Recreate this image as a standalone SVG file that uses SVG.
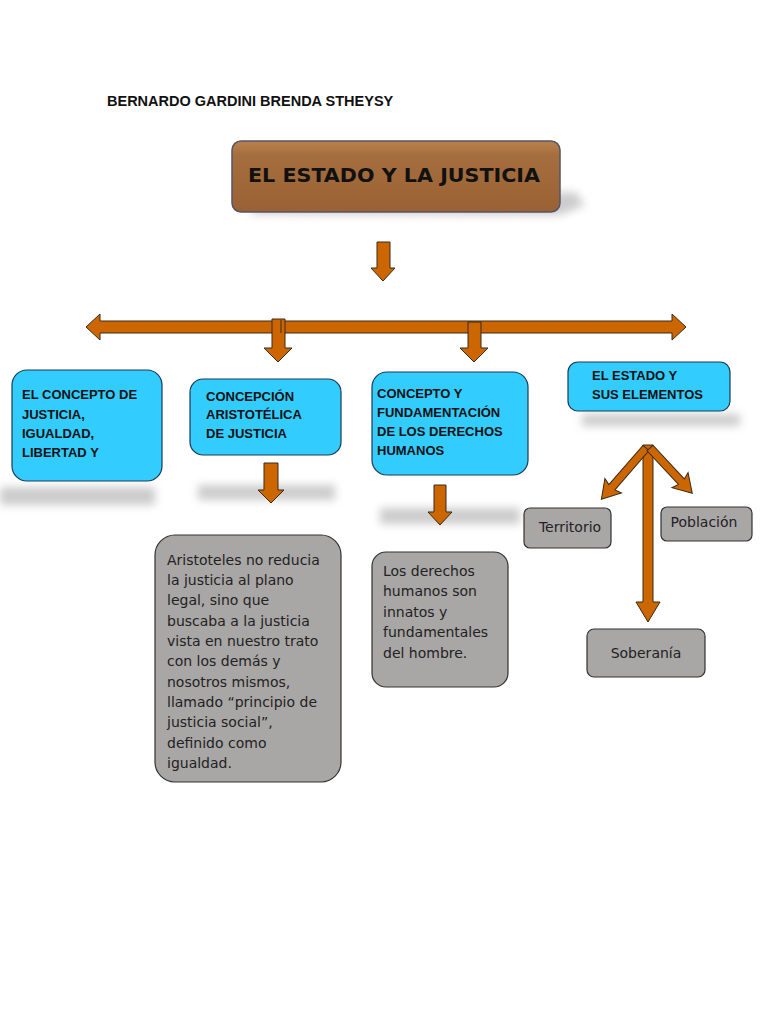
<svg xmlns="http://www.w3.org/2000/svg" width="768" height="1024" viewBox="0 0 768 1024">
<style>
.arr{fill:#cc6600;stroke:#3a2a1a;stroke-width:1}
.blue{fill:#33ccff;stroke:#1a3a55;stroke-width:1.2}
.gray{fill:#a9a6a6;stroke:#333;stroke-width:1.2}
.bt{font-family:"Liberation Sans",Arial,sans-serif;font-weight:bold;font-size:13px;fill:#111}
.gt{font-family:"DejaVu Sans",sans-serif;font-size:14px;fill:#222}
.sh{fill:#ccc;filter:url(#blur)}
</style>
<defs>
<filter id="blur" x="-20%" y="-100%" width="140%" height="300%"><feGaussianBlur stdDeviation="4"/></filter>
<linearGradient id="brown" x1="0" y1="0" x2="0" y2="1"><stop offset="0" stop-color="#b98150"/><stop offset="0.2" stop-color="#a56e3e"/><stop offset="1" stop-color="#9a6234"/></linearGradient>
</defs>
<rect width="768" height="1024" fill="#fff"/>
<text class="bt" x="107" y="106" style="font-size:14.5px">BERNARDO GARDINI BRENDA STHEYSY</text>
<g id="title">
<polygon points="260,200 575,192 585,205 560,215 250,214" class="sh"/>
<rect x="232" y="141" width="328" height="71" rx="9" fill="url(#brown)" stroke="#556" stroke-width="1.5"/>
<text x="394" y="182" text-anchor="middle" font-family="'DejaVu Sans',sans-serif" font-weight="bold" font-size="19" fill="#111" textLength="292" lengthAdjust="spacingAndGlyphs">EL ESTADO Y LA JUSTICIA</text>
</g>
<g id="n1">
<rect x="0" y="487" width="155" height="18" class="sh"/>
<rect x="12" y="370" width="150" height="111" rx="15" class="blue"/>
<text class="bt" x="22" y="399">EL CONCEPTO DE</text>
<text class="bt" x="22" y="419">JUSTICIA,</text>
<text class="bt" x="22" y="438">IGUALDAD,</text>
<text class="bt" x="22" y="457">LIBERTAD Y</text>
</g>
<g id="n2">
<rect x="198" y="485" width="137" height="15" class="sh"/>
<rect x="190" y="379" width="151" height="76" rx="13" class="blue"/>
<text class="bt" x="206" y="401">CONCEPCIÓN</text>
<text class="bt" x="206" y="419">ARISTOTÉLICA</text>
<text class="bt" x="206" y="438">DE JUSTICIA</text>
</g>
<g id="n3">
<rect x="380" y="508" width="140" height="16" class="sh"/>
<rect x="372" y="372" width="156" height="103" rx="15" class="blue"/>
<text class="bt" x="377" y="398">CONCEPTO Y</text>
<text class="bt" x="377" y="417">FUNDAMENTACIÓN</text>
<text class="bt" x="377" y="436">DE LOS DERECHOS</text>
<text class="bt" x="377" y="455">HUMANOS</text>
</g>
<g id="n4">
<rect x="582" y="414" width="158" height="12" class="sh"/>
<rect x="568" y="362" width="162" height="49" rx="10" class="blue"/>
<text class="bt" x="592" y="380">EL ESTADO Y</text>
<text class="bt" x="592" y="399">SUS ELEMENTOS</text>
</g>
<g id="n5">
<rect x="155" y="535" width="186" height="247" rx="20" class="gray"/>
<text class="gt" x="167" y="565">Aristoteles no reducia</text>
<text class="gt" x="167" y="585">la justicia al plano</text>
<text class="gt" x="167" y="605">legal, sino que</text>
<text class="gt" x="167" y="626">buscaba a la justicia</text>
<text class="gt" x="167" y="646">vista en nuestro trato</text>
<text class="gt" x="167" y="666">con los demás y</text>
<text class="gt" x="167" y="687">nosotros mismos,</text>
<text class="gt" x="167" y="707">llamado “principio de</text>
<text class="gt" x="167" y="727">justicia social”,</text>
<text class="gt" x="167" y="748">definido como</text>
<text class="gt" x="167" y="768">igualdad.</text>
</g>
<g id="n6">
<rect x="372" y="552" width="136" height="135" rx="14" class="gray"/>
<text class="gt" x="383" y="576">Los derechos</text>
<text class="gt" x="383" y="596">humanos son</text>
<text class="gt" x="383" y="617">innatos y</text>
<text class="gt" x="383" y="637">fundamentales</text>
<text class="gt" x="383" y="658">del hombre.</text>
</g>
<g id="n7">
<rect x="524" y="508" width="87" height="40" rx="6" class="gray"/>
<text class="gt" x="570" y="532" text-anchor="middle">Territorio</text>
</g>
<g id="n8">
<rect x="661" y="507" width="91" height="34" rx="6" class="gray"/>
<text class="gt" x="704" y="527" text-anchor="middle">Población</text>
</g>
<g id="n9">
<rect x="587" y="629" width="118" height="48" rx="7" class="gray"/>
<text class="gt" x="646" y="658" text-anchor="middle">Soberanía</text>
</g>
<g id="connectors">
<polygon class="arr" points="377,242 390,242 390,268 395,268 383,281 371,268 377,268"/>
<polygon class="arr" points="86,327 100,314 100,321 672,321 672,314 686,327 672,340 672,333 100,333 100,340"/>
<polygon class="arr" points="272,319 285,319 285,348 292,348 278,362 264,348 272,348"/>
<line x1="281" y1="320" x2="281" y2="333" stroke="#3a2a1a"/>
<polygon class="arr" points="468,322 481,322 481,348 488,348 474,362 460,348 468,348"/>
<polygon class="arr" points="264,463 278,463 278,490 284,490 271,503 258,490 264,490"/>
<polygon class="arr" points="434,485 446,485 446,512 452,512 440,525 428,512 434,512"/>
<polygon class="arr" points="643,445 653,445 653,602 660,602 648,622 636,602 643,602"/>
<polygon class="arr" transform="translate(646,448) rotate(41)" points="-4,0 4,0 4,52 11,50 0,68 -11,50 -4,52"/>
<polygon class="arr" transform="translate(650,448) rotate(-43)" points="-4,0 4,0 4,46 11,44 0,62 -11,44 -4,46"/>
</g>
</svg>
